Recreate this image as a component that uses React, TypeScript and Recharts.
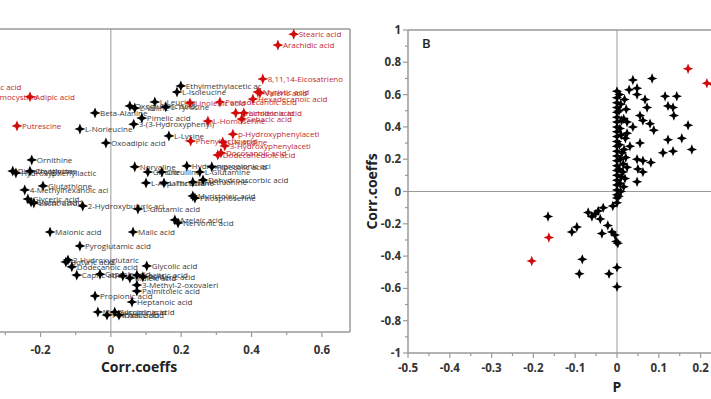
import { ScatterChart, Scatter, XAxis, YAxis, ReferenceLine } from 'recharts'

// ---- panel A (labelled metabolites) ----
const redNames = [
  'Stearic acid', 'Arachidic acid', '8,11,14-Eicosatrieno', 'Myristic acid', 'Valeric acid',
  'Pentadecanoic acid', 'Hexadecanoic acid', 'Linolenic acid', 'Arachidonic acid', 'Linoleic acid',
  'Sebacic acid', 'L-Homoserine', 'p-Hydroxyphenylaceti', 'Phenyllactic acid', 'L-Histidine',
  '3-Hydroxyphenylaceti', 'Dodecanedioic acid', 'Docosanoic acid', 'Tropic acid', 'Homocystine',
  'Adipic acid', 'Putrescine',
]
const redCorr = [
  0.52, 0.475, 0.432, 0.418, 0.424, 0.31, 0.404, 0.225, 0.355, 0.378,
  0.372, 0.276, 0.347, 0.227, 0.318, 0.324, 0.304, 0.313, -0.384, -0.361,
  -0.23, -0.267,
]
const redScore = [
  98.3, 94.7, 83.5, 79.2, 78.9, 75.9, 76.9, 75.6, 72.3, 72.3,
  70.3, 69.6, 65.3, 63.0, 62.7, 61.4, 58.4, 59.1, 80.9, 77.6,
  77.6, 68.0,
]

const blackNames = [
  'Ethylmethylacetic ac', 'L-Isoleucine', 'L-Leucine', 'Oxoglutaric acid', 'L-Valine',
  'L-Tyrosine', 'Beta-Alanine', 'Pimelic acid', '3-(3-Hydroxyphenyl)', 'L-Norleucine',
  'L-Lysine', 'Oxoadipic acid', 'Ornithine', 'Dimethylglycine', 'Hydroxyphenyllactic',
  'Creatinine', 'Glutathione', '4-Methylhexanoic aci', 'Glyceric acid', 'Glutaric acid',
  'Lactic acid', '2-Hydroxybutyric aci', 'L-Glutamic acid', 'Azelaic acid', 'Nervonic acid',
  'Malonic acid', 'Malic acid', 'Pyroglutamic acid', 'Norvaline', 'Glycine',
  'Citrulline', 'Hydroxypropionic aci', 'Pipecolic acid', 'L-Glutamine', 'L-Aspartic acid',
  'L-Threonine', 'L-Methionine', 'Dehydroascorbic acid', 'Myristoleic acid', 'Phosphoserine',
  '2-Hydroxyglutaric', 'Butyric acid', 'Dodecanoic acid', 'Capric acid', 'Caproic acid',
  'Glycolic acid', 'Citric acid', 'Maleic acid', 'Isocitric acid', 'Fumaric acid',
  '3-Methyl-2-oxovaleri', 'Palmitoleic acid', 'Propionic acid', 'Heptanoic acid', 'Methylsuccinic acid',
  'Phthalic acid', 'Succinic acid', 'Oxalic acid',
]
const blackCorr = [
  0.199, 0.188, 0.125, 0.054, 0.068, 0.156, -0.045, 0.088, 0.065, -0.088,
  0.165, -0.014, -0.225, -0.279, -0.27, -0.23, -0.193, -0.245, -0.236, -0.227,
  -0.219, -0.08, 0.077, 0.182, 0.191, -0.173, 0.063, -0.088, 0.068, 0.105,
  0.145, 0.216, 0.287, 0.253, 0.1, 0.151, 0.233, 0.262, 0.233, 0.239,
  -0.122, -0.128, -0.111, -0.097, -0.031, 0.102, 0.034, 0.054, 0.074, 0.091,
  0.074, 0.074, -0.045, 0.06, -0.037, -0.011, 0.011, 0.023,
]
const blackScore = [
  81.2, 79.2, 75.9, 74.6, 73.9, 74.3, 72.3, 70.6, 68.6, 67.0,
  64.7, 62.4, 56.8, 53.1, 52.5, 53.1, 48.2, 46.9, 43.9, 42.9,
  42.6, 41.6, 40.6, 37.0, 36.0, 33.0, 33.0, 28.4, 54.5, 52.8,
  52.8, 54.8, 54.5, 52.8, 49.2, 49.2, 49.5, 50.2, 44.9, 44.2,
  23.8, 23.1, 21.5, 18.8, 19.1, 21.8, 18.5, 17.8, 18.8, 18.2,
  15.5, 13.5, 11.9, 9.9, 6.6, 5.6, 6.6, 5.6,
]

const ticksA = [-0.3, -0.2, -0.1, 0, 0.1, 0.2, 0.3, 0.4, 0.5, 0.6]

// ---- panel B (P vs Corr.coeffs) ----
const bRedP = [0.17, 0.215, 0.228, -0.163, -0.204]
const bRedCorr = [0.76, 0.67, 0.665, -0.285, -0.43]

const bBlackP = [
  0.038, 0.084, 0.029, 0.048, 0.048, 0.067, 0.072, 0.115, 0.143, 0.122,
  0.134, 0.136, 0.17, 0.055, 0.062, 0.079, 0.088, 0.038, 0.024, 0.055,
  0.122, 0.155, 0.179, 0.134, 0.11, 0.031, 0.048, 0.062, 0.081, 0.05,
  0.062, 0.048, 0.024, 0.014,
  -0.165, -0.108, -0.096, -0.069, -0.06, -0.045, -0.033, -0.036, -0.022, -0.012,
  -0.002, 0.002, -0.005, -0.01, 0, -0.083, -0.09, -0.019, 0, 0,
  -0.052, -0.04,
  0, 0, 0, 0, 0, 0, 0, 0, 0, 0, 0, 0, 0, 0, 0, 0, 0, 0, 0, 0, 0, 0, 0,
  0.006, 0.009, 0.005, 0.011, 0.007, 0.01, 0.006, 0.012, 0.008, 0.005, 0.01, 0.007, 0.009, 0.004,
  0.018, 0.022, 0.016, 0.024, 0.02, 0.017, 0.021, 0.015, 0.019, 0.016,
]
const bBlackCorr = [
  0.69, 0.7, 0.63, 0.64, 0.6, 0.57, 0.52, 0.59, 0.59, 0.53,
  0.52, 0.47, 0.41, 0.47, 0.44, 0.42, 0.38, 0.4, 0.43, 0.3,
  0.32, 0.33, 0.26, 0.25, 0.24, 0.28, 0.2, 0.19, 0.18, 0.14,
  0.12, 0.06, 0.15, 0.12,
  -0.155, -0.25, -0.22, -0.13, -0.155, -0.12, -0.1, -0.26, -0.21, -0.25,
  -0.31, -0.32, -0.27, -0.09, -0.07, -0.42, -0.51, -0.51, -0.47, -0.59,
  -0.14, -0.17,
  0.62, 0.58, 0.55, 0.52, 0.49, 0.46, 0.43, 0.4, 0.37, 0.34, 0.31, 0.28, 0.25, 0.22, 0.19, 0.16, 0.13, 0.1, 0.07, 0.04, 0.01, -0.02, -0.04,
  0.6, 0.54, 0.5, 0.44, 0.39, 0.35, 0.29, 0.24, 0.2, 0.14, 0.09, 0.05, 0.0, -0.03,
  0.57, 0.51, 0.45, 0.36, 0.33, 0.26, 0.21, 0.17, 0.08, 0.03,
]

const ticksBx = [
  -0.5, -0.45, -0.4, -0.35, -0.3, -0.25, -0.2, -0.15, -0.1, -0.05, 0,
  0.05, 0.1, 0.15, 0.2, 0.25, 0.3, 0.35, 0.4, 0.45, 0.5,
]
const ticksBy = [
  -1, -0.9, -0.8, -0.7, -0.6, -0.5, -0.4, -0.3, -0.2, -0.1, 0,
  0.1, 0.2, 0.3, 0.4, 0.5, 0.6, 0.7, 0.8, 0.9, 1,
]

const RED = '#d10a0a'
const RED_TEXT = '#bf2a2f'
const GRID = '#9a9a9a'
const TICK_FONT = { fontFamily: 'Open Sans', fontWeight: 700, fontSize: 11.5, fill: '#333' }

const redA = redNames.map((name, i) => ({ name, x: redCorr[i], y: redScore[i] }))
const blackA = blackNames.map((name, i) => ({ name, x: blackCorr[i], y: blackScore[i] }))
const redB = bRedP.map((x, i) => ({ x, y: bRedCorr[i] }))
const blackB = bBlackP.map((x, i) => ({ x, y: bBlackCorr[i] }))

const starPath = (cx: number, cy: number, r = 5.5, w = 1.6) =>
  `M${cx},${cy - r}L${cx + w},${cy - w}L${cx + r},${cy}L${cx + w},${cy + w}` +
  `L${cx},${cy + r}L${cx - w},${cy + w}L${cx - r},${cy}L${cx - w},${cy - w}Z`

const labelledStar = (fill: string, textFill: string) => (props: any) => {
  const { cx, cy, payload } = props
  return (
    <g>
      <path d={starPath(cx, cy)} fill={fill} />
      <text x={cx + 5} y={cy + 3} fontSize={8} fontFamily="Open Sans" fill={textFill}>
        {payload.name}
      </text>
    </g>
  )
}

const plainStar = (fill: string) => (props: any) => (
  <path d={starPath(props.cx, props.cy, 5.2, 1.5)} fill={fill} />
)

const fmt = (v: number) => (Math.abs(v) < 1e-9 ? '0' : String(v))

const XTick = ({ x, y, payload, step, dy }: any) => {
  const v = payload.value
  const major = Math.abs(Math.round(v / step)) % 2 === 0
  return (
    <g>
      <line x1={x} x2={x} y1={y} y2={y + (major ? 5 : 3)} stroke={GRID} strokeWidth={1.2} />
      {major && (
        <text x={x} y={y + dy} textAnchor="middle" {...TICK_FONT}>
          {fmt(v)}
        </text>
      )}
    </g>
  )
}

const YTick = ({ x, y, payload }: any) => {
  const v = payload.value
  const major = Math.abs(Math.round(v * 10)) % 2 === 0
  return (
    <g>
      <line x1={x} x2={x - (major ? 5 : 3)} y1={y} y2={y} stroke={GRID} strokeWidth={1.2} />
      {major && (
        <text x={x - 7} y={y + 4} textAnchor="end" {...TICK_FONT}>
          {fmt(v)}
        </text>
      )}
    </g>
  )
}

export default function App() {
  return (
    <div style={{ position: 'absolute', left: 0, top: 0, width: 711, height: 399, overflow: 'hidden', background: '#fff' }}>
      <div style={{ position: 'absolute', left: -72, top: 0 }}>
        <ScatterChart width={432} height={399} margin={{ top: 29, right: 10, bottom: 0, left: 0 }}>
          <XAxis
            type="number" dataKey="x" domain={[-0.52, 0.68]} ticks={ticksA} interval={0}
            tickSize={0} tickMargin={0} height={67}
            axisLine={{ stroke: GRID, strokeWidth: 1.5 }} tickLine={false}
            tick={<XTick step={0.1} dy={22} />}
            label={{ value: 'Corr.coeffs', position: 'insideBottom', offset: 27, fontFamily: 'Open Sans', fontWeight: 700, fontSize: 14, fill: '#222' }}
          />
          <YAxis type="number" dataKey="y" domain={[0, 100]} hide />
          <ReferenceLine y={100} stroke={GRID} strokeWidth={1.5} />
          <ReferenceLine x={0.68} stroke={GRID} strokeWidth={1.5} />
          <ReferenceLine x={0} stroke={GRID} strokeWidth={1} />
          <Scatter data={blackA} shape={labelledStar('#000', '#3a3a3a')} isAnimationActive={false} />
          <Scatter data={redA} shape={labelledStar(RED, RED_TEXT)} isAnimationActive={false} />
        </ScatterChart>
      </div>

      <div style={{ position: 'absolute', left: 336, top: 0 }}>
        <ScatterChart width={500} height={399} margin={{ top: 30, right: 10, bottom: 0, left: 0 }}>
          <XAxis
            type="number" dataKey="x" domain={[-0.5, 0.5]} ticks={ticksBx} interval={0}
            tickSize={0} tickMargin={0} height={46}
            axisLine={{ stroke: GRID, strokeWidth: 1.5 }} tickLine={false}
            tick={<XTick step={0.05} dy={19} />}
            label={{ value: 'P', position: 'insideBottom', offset: 7, fontFamily: 'Open Sans', fontWeight: 700, fontSize: 14, fill: '#222' }}
          />
          <YAxis
            type="number" dataKey="y" domain={[-1, 1]} ticks={ticksBy} interval={0}
            tickSize={0} tickMargin={0} width={72}
            axisLine={{ stroke: GRID, strokeWidth: 1.5 }} tickLine={false}
            tick={<YTick />}
            label={{ value: 'Corr.coeffs', angle: -90, position: 'center', fontFamily: 'Open Sans', fontWeight: 700, fontSize: 14, fill: '#222' }}
          />
          <ReferenceLine y={1} stroke={GRID} strokeWidth={1.5} />
          <ReferenceLine y={0} stroke={GRID} strokeWidth={1} />
          <ReferenceLine x={0} stroke={GRID} strokeWidth={1} />
          <Scatter data={blackB} shape={plainStar('#000')} isAnimationActive={false} />
          <Scatter data={redB} shape={plainStar(RED)} isAnimationActive={false} />
        </ScatterChart>
      </div>

      <div style={{ position: 'absolute', left: 422, top: 37, fontFamily: 'Open Sans', fontWeight: 600, fontSize: 13, lineHeight: 1, color: '#222' }}>
        B
      </div>
    </div>
  )
}
